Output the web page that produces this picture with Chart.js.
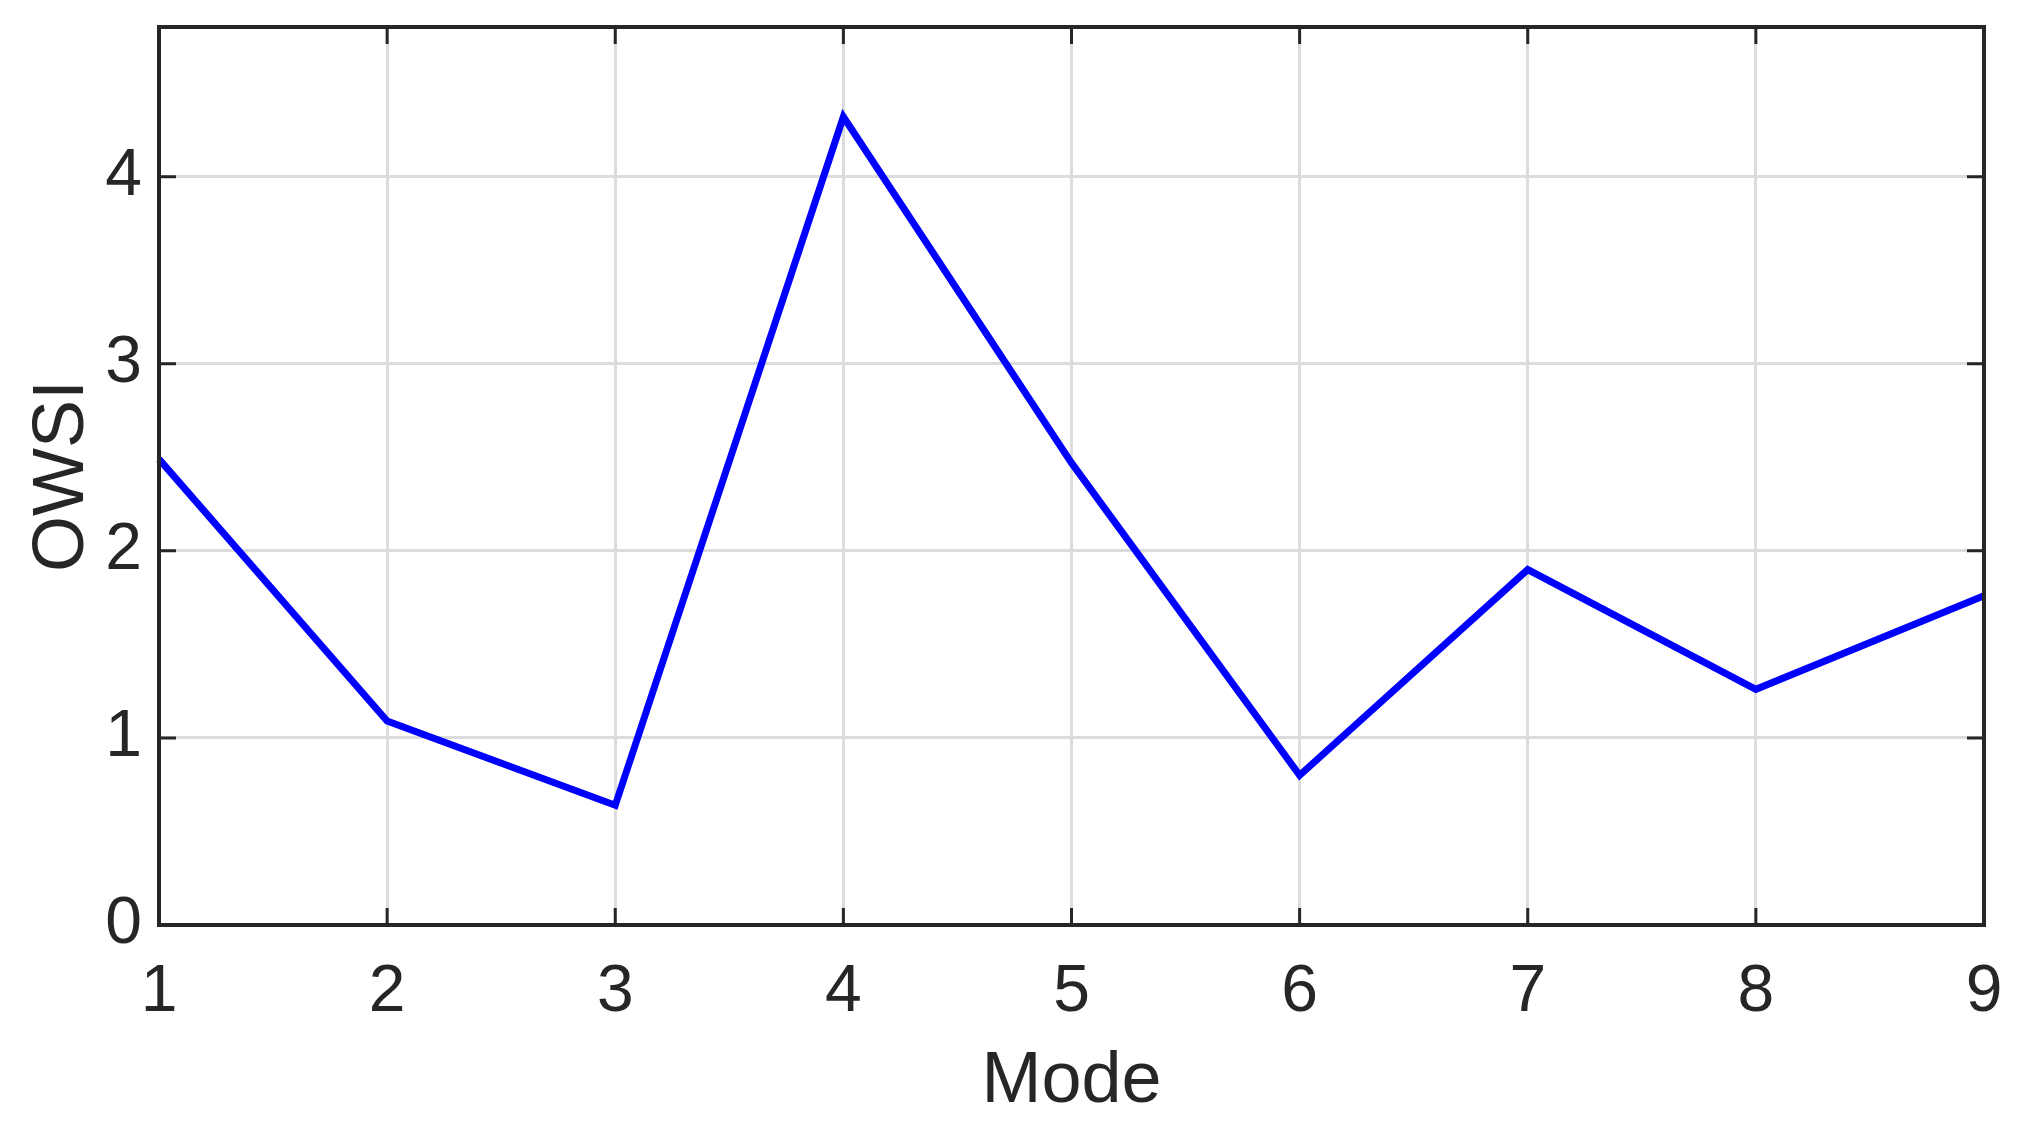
<!DOCTYPE html>
<html>
<head>
<meta charset="utf-8">
<script src="https://cdn.jsdelivr.net/npm/chart.js@4/dist/chart.umd.min.js"></script>
<style>
  html, body { margin: 0; padding: 0; background: #fff; }
  #wrap { width: 2019px; height: 1122px; }
</style>
</head>
<body>
<div id="wrap"><canvas id="owsiChart" width="2019" height="1122"></canvas></div>
<script>
// data
const modes = ['1', '2', '3', '4', '5', '6', '7', '8', '9'];
const owsi = [2.49, 1.09, 0.64, 4.32, 2.47, 0.80, 1.90, 1.26, 1.76];
const yTicks = [0, 1, 2, 3, 4];
const yMax = 4.8;

const axisColor = '#262626';
const gridColor = '#dcdcdc';
const font = "'Liberation Sans', Arial, sans-serif";

// box around the plot with inward ticks on all four sides (matlab style)
const boxPlugin = {
    id: 'box',
    afterDatasetsDraw(chart) {
        const { ctx, chartArea: a, scales } = chart;
        const tl = 17;
        ctx.save();
        ctx.strokeStyle = axisColor;
        ctx.lineWidth = 4;
        ctx.strokeRect(a.left, a.top, a.right - a.left, a.bottom - a.top);
        ctx.lineWidth = 3;
        ctx.beginPath();
        modes.forEach((m, i) => {
            const x = scales.x.getPixelForValue(i);
            ctx.moveTo(x, a.bottom); ctx.lineTo(x, a.bottom - tl);
            ctx.moveTo(x, a.top); ctx.lineTo(x, a.top + tl);
        });
        yTicks.forEach(v => {
            const y = scales.y.getPixelForValue(v);
            ctx.moveTo(a.left, y); ctx.lineTo(a.left + tl, y);
            ctx.moveTo(a.right, y); ctx.lineTo(a.right - tl, y);
        });
        ctx.stroke();
        ctx.restore();
    }
};

new Chart(document.getElementById('owsiChart').getContext('2d'), {
    type: 'line',
    data: {
        labels: modes,
        datasets: [{
            label: 'OWSI',
            data: owsi,
            borderColor: '#0000ff',
            borderWidth: 7,
            pointRadius: 0,
            tension: 0,
            fill: false
        }]
    },
    options: {
        responsive: false,
        devicePixelRatio: 1,
        animation: false,
        layout: { padding: { top: 27, right: 35, left: 0, bottom: 0 } },
        plugins: {
            legend: { display: false },
            tooltip: { enabled: false }
        },
        scales: {
            x: {
                offset: false,
                grid: { color: gridColor, lineWidth: 3, drawTicks: false },
                border: { display: false },
                ticks: {
                    color: axisColor,
                    padding: 28,
                    maxRotation: 0,
                    autoSkip: false,
                    font: { family: font, size: 66 }
                },
                title: {
                    display: true,
                    text: 'Mode',
                    color: axisColor,
                    padding: { top: 0, bottom: 0 },
                    font: { family: font, size: 72, lineHeight: 1.1 }
                },
                afterFit(scale) {
                    scale.height = 197;
                    scale.paddingLeft = 0;
                    scale.paddingRight = 0;
                }
            },
            y: {
                min: 0,
                max: yMax,
                grid: { color: gridColor, lineWidth: 3, drawTicks: false },
                border: { display: false },
                afterBuildTicks(scale) { scale.ticks = yTicks.map(v => ({ value: v })); },
                ticks: {
                    color: axisColor,
                    padding: 17,
                    font: { family: font, size: 66 }
                },
                title: {
                    display: true,
                    text: 'OWSI',
                    color: axisColor,
                    padding: { top: 20, bottom: 0 },
                    font: { family: font, size: 72 }
                },
                afterFit(scale) {
                    scale.width = 159;
                    scale.paddingTop = 0;
                    scale.paddingBottom = 0;
                }
            }
        }
    },
    plugins: [boxPlugin]
});
</script>
</body>
</html>
